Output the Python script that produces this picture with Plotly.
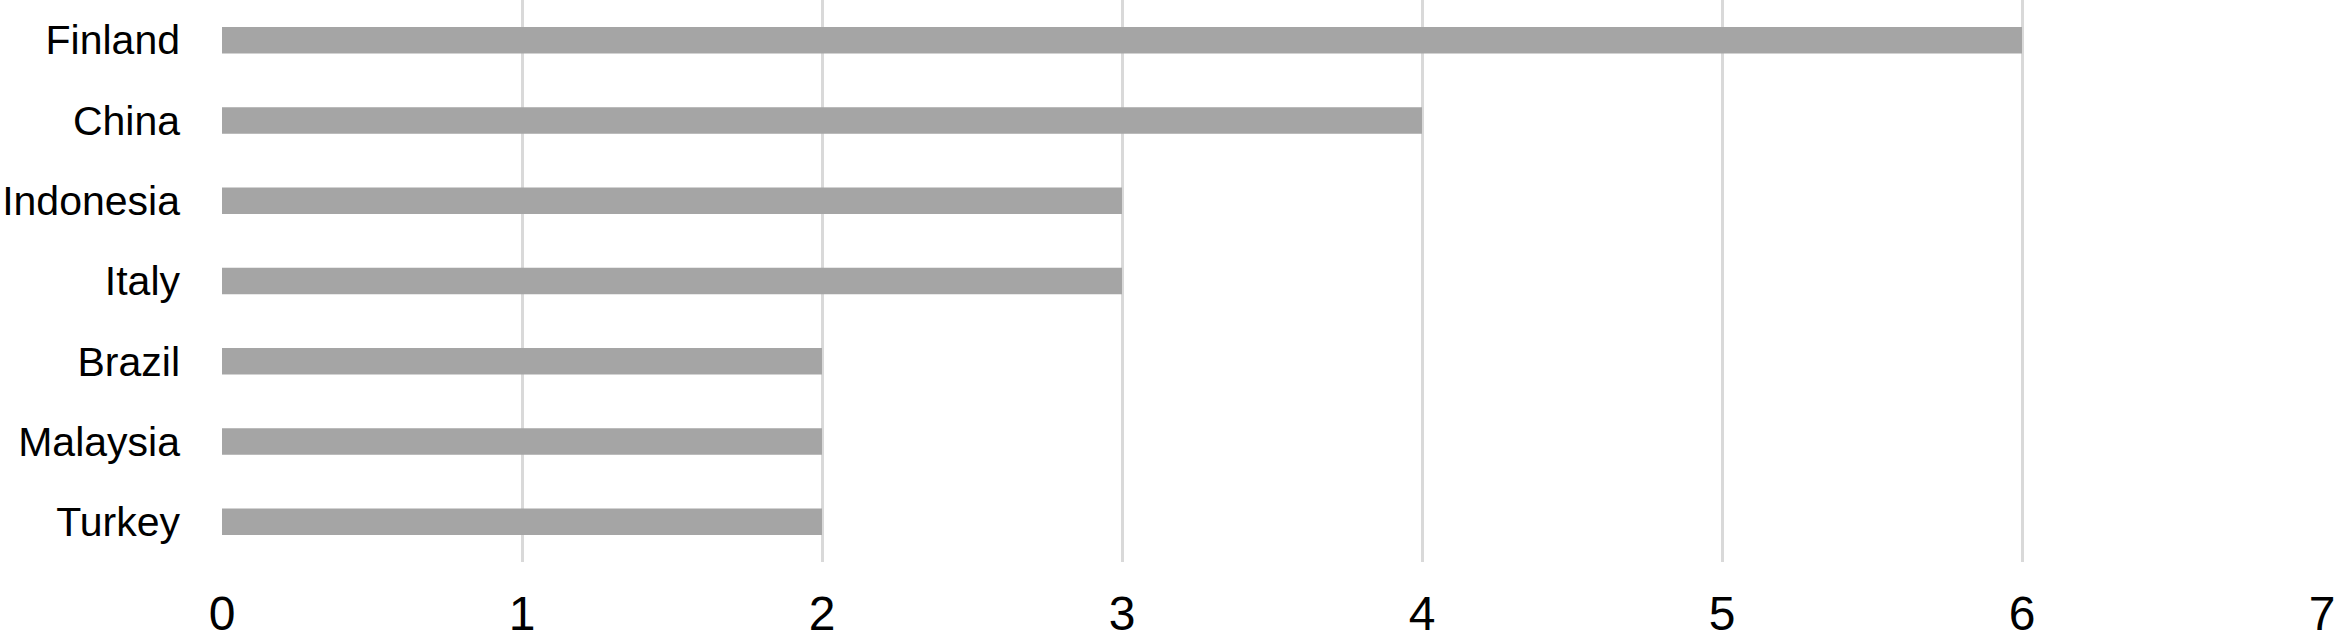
import plotly.graph_objects as go

countries = ["Finland", "China", "Indonesia", "Italy", "Brazil", "Malaysia", "Turkey"]
counts = [6, 4, 3, 3, 2, 2, 2]
x_ticks = [0, 1, 2, 3, 4, 5, 6, 7]

fig = go.Figure(go.Bar(
    x=counts,
    y=countries,
    orientation="h",
    marker=dict(color="#a5a5a5", line=dict(width=0)),
    width=0.33,
))

fig.update_layout(
    width=2337, height=642,
    margin=dict(l=222, r=15, t=0, b=80),
    plot_bgcolor="white", paper_bgcolor="white",
    showlegend=False,
    font=dict(family="Liberation Sans, Arial, sans-serif", color="black"),
    xaxis=dict(
        range=[0, 7], tickvals=x_ticks,
        showgrid=True, gridcolor="#d9d9d9", gridwidth=3,
        zeroline=False, showline=False,
        tickfont=dict(size=48),
        ticklabelstandoff=19,
        automargin=False,
    ),
    yaxis=dict(
        autorange="reversed",
        showgrid=False, zeroline=False, showline=False,
        tickfont=dict(size=41),
        ticklabelstandoff=41,
        automargin=False,
    ),
)

# drop the page's default body margin so the figure sits at the top-left corner
fig.write_html("out.html", config={"displayModeBar": False},
               post_script="document.body.style.margin='0';")
